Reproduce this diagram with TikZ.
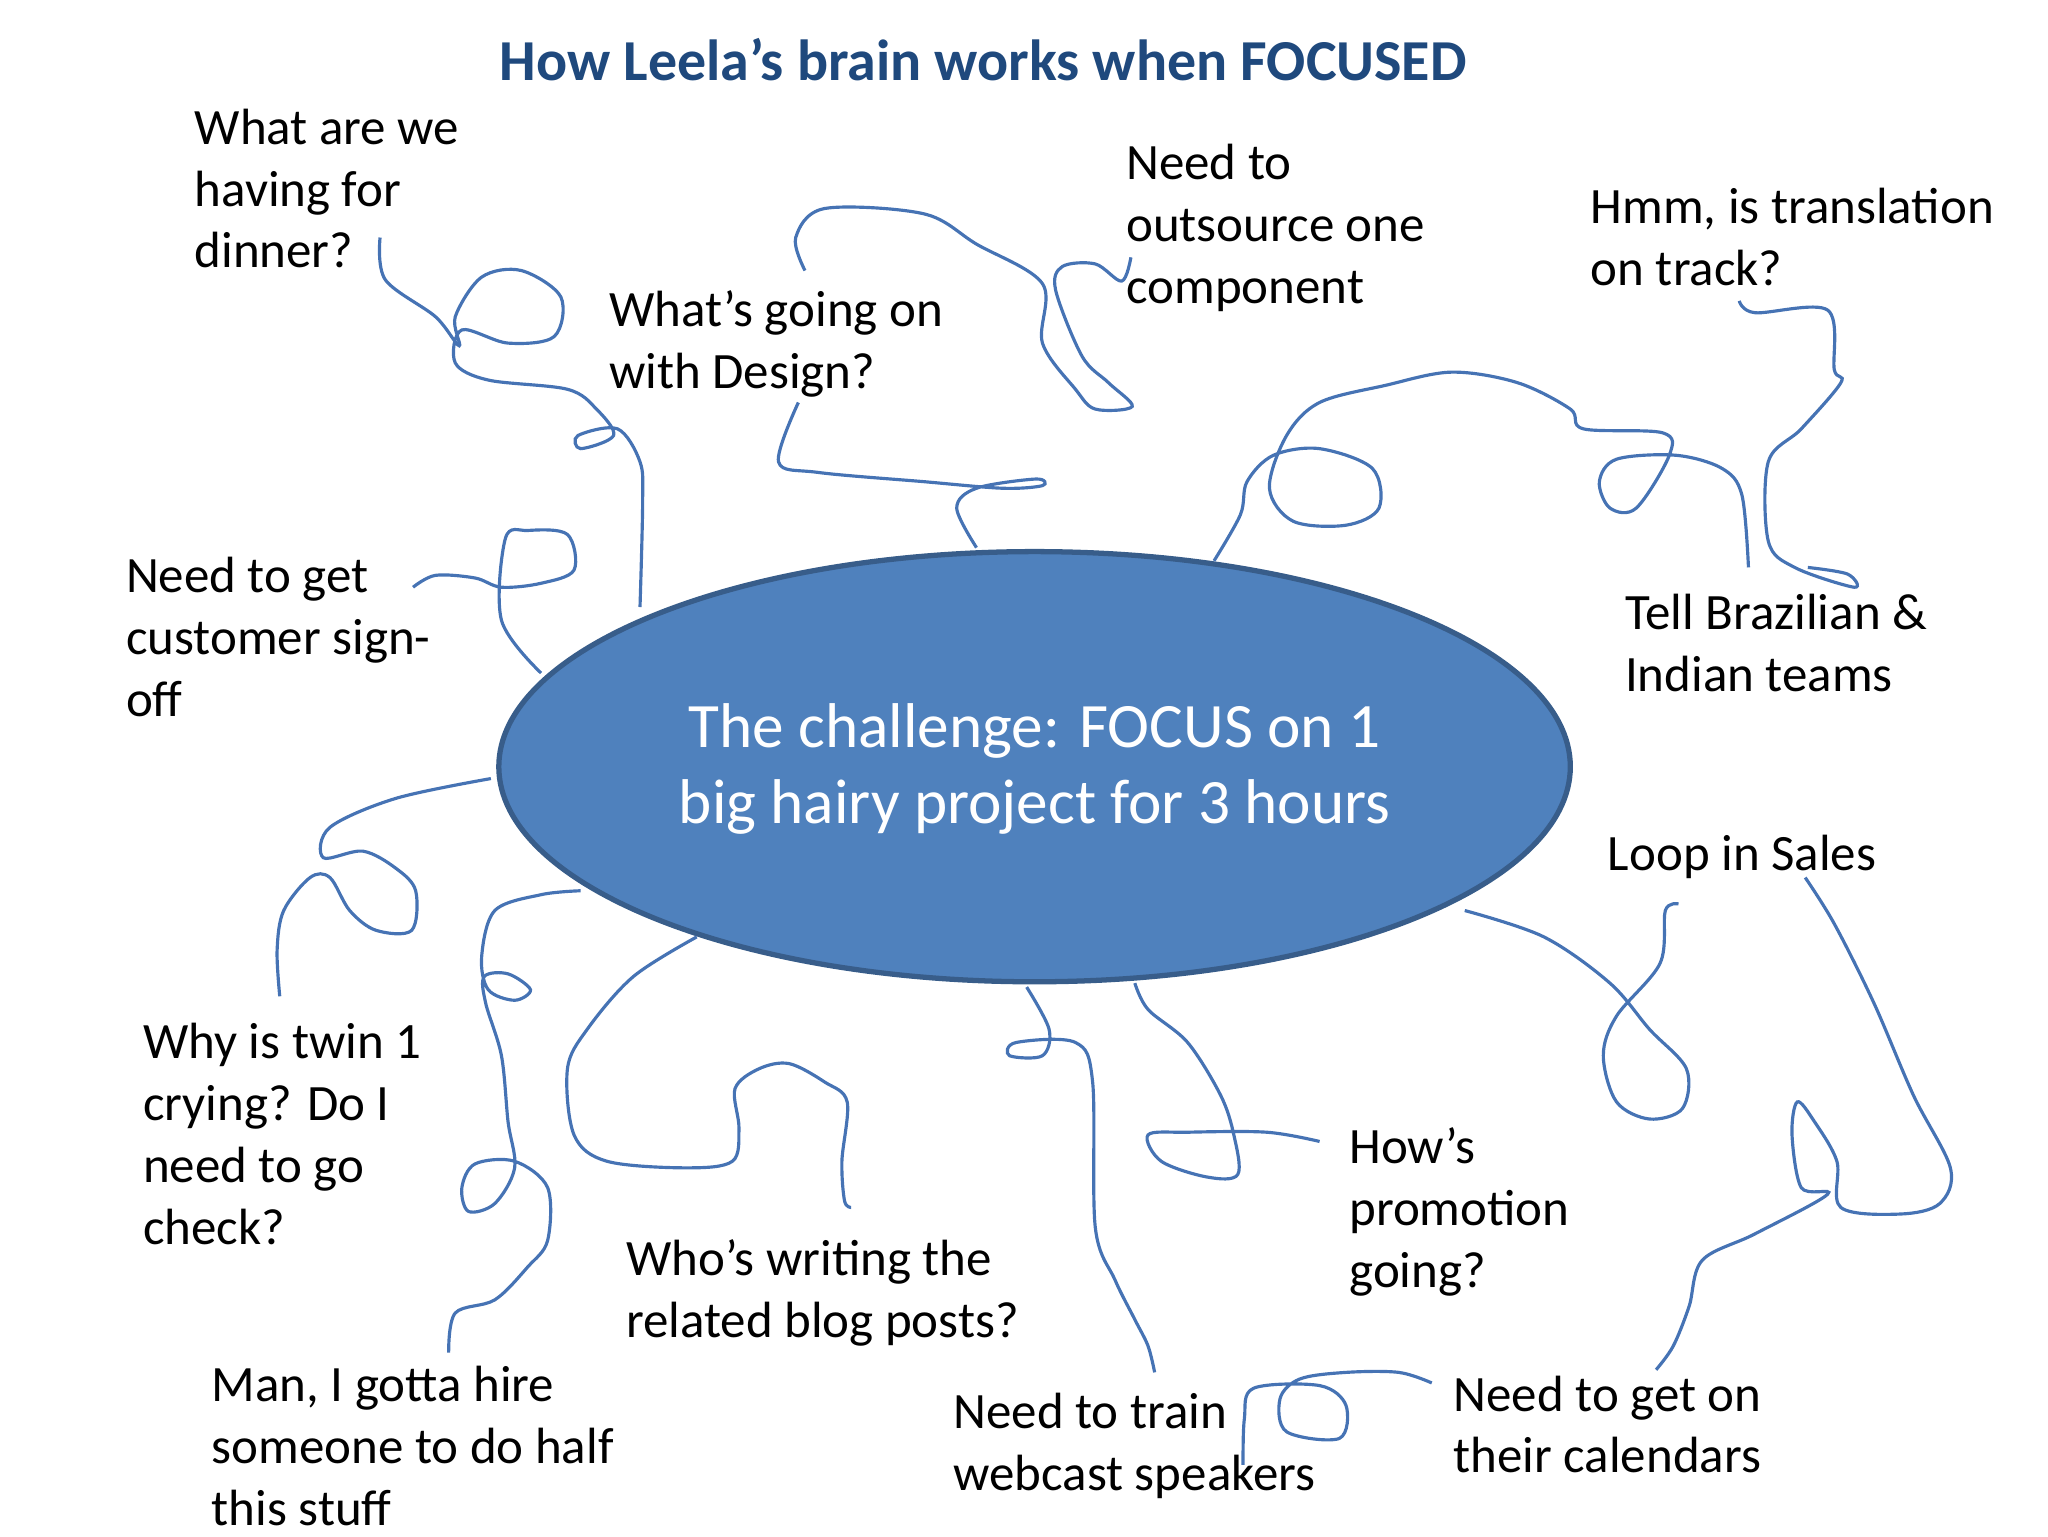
\documentclass[tikz,border=0pt]{standalone}
\usepackage{fontspec}
\setmainfont{Carlito}
\begin{document}
\begin{tikzpicture}[x=0.013196cm,y=-0.013196cm,
  sq/.style={draw={rgb,255:red,70;green,115;blue,180}, line width=0.9pt},
  lbl/.style={anchor=north west, inner sep=0pt, align=left, font=\fontsize{14.5}{17.6}\selectfont}]
\definecolor{ell}{RGB}{79,129,189}
\definecolor{elb}{RGB}{56,93,138}
\definecolor{ttl}{RGB}{31,73,125}
\useasboundingbox (0,0) rectangle (1552,1164);
\filldraw[fill=ell, draw=elb, line width=1.5pt] (784,581) ellipse [x radius=406, y radius=163];
\node (c) [font=\fontsize{18}{21.7}\selectfont, text=white, align=center] at (784,583) {The challenge: FOCUS on 1\\big hairy project for 3 hours};
\node (t) [font=\fontsize{16.5}{20}\selectfont\bfseries, text=ttl] at (745,45) {How Leela’s brain works when FOCUSED};
\node (a1) [lbl] at (147,82) {What are we\\having for\\dinner?};
\node (a2) [lbl] at (853,109) {Need to\\outsource one\\component};
\node (a3) [lbl] at (1205,142) {Hmm, is translation\\on track?};
\node (a4) [lbl] at (461,220) {What’s going on\\with Design?};
\node (a5) [lbl] at (95,422) {Need to get\\customer sign-\\off};
\node (a6) [lbl] at (1231,450) {Tell Brazilian \&\\Indian teams};
\node (a7) [lbl] at (1218,632) {Loop in Sales};
\node (a8) [lbl] at (108,775) {Why is twin 1\\crying? Do I\\need to go\\check?};
\node (a9) [lbl] at (1022,854) {How’s\\promotion\\going?};
\node (a10) [lbl] at (474,939) {Who’s writing the\\related blog posts?};
\node (a11) [lbl] at (160,1035) {Man, I gotta hire\\someone to do half\\this stuff};
\node (a12) [lbl] at (722,1055) {Need to train\\webcast speakers};
\node (a13) [lbl] at (1101,1042) {Need to get on\\their calendars};
\draw[sq] plot[smooth,tension=0.55] coordinates {(288,180)(292,212)(330,240)(348,262)(345,240)(365,210)(395,205)(425,225)(420,255)(385,260)(350,250)(345,275)(370,288)(430,295)(452,310)(465,330)(440,340)(438,330)(468,325)(485,350)(487,380)(485,460)};
\draw[sq] plot[smooth,tension=0.55] coordinates {(605,305)(590,350)(620,358)(700,365)(760,370)(790,368)(785,363)(740,370)(725,385)(740,415)};
\draw[sq] plot[smooth,tension=0.55] coordinates {(610,205)(603,180)(625,158)(700,162)(740,185)(790,215)(790,260)(815,295)(830,310)(858,308)(840,290)(820,270)(800,220)(805,202)(830,200)(850,213)(857,195)};
\draw[sq] plot[smooth,tension=0.55] coordinates {(1318,228)(1330,237)(1385,235)(1390,280)(1395,290)(1365,325)(1340,350)(1340,410)(1360,430)(1405,445)(1400,435)(1370,430)};
\draw[sq] plot[smooth,tension=0.55] coordinates {(920,425)(940,390)(945,365)(965,345)(1000,340)(1040,355)(1045,385)(1020,398)(980,395)(962,370)(975,330)(1000,305)(1050,292)(1100,282)(1150,290)(1190,310)(1200,325)(1260,328)(1265,345)(1240,385)(1220,385)(1212,365)(1225,348)(1270,345)(1305,355)(1320,375)(1325,430)};
\draw[sq] plot[smooth,tension=0.55] coordinates {(313,445)(330,436)(360,438)(380,445)(410,442)(435,432)(430,405)(400,402)(383,408)(380,470)(410,510)};
\draw[sq] plot[smooth,tension=0.55] coordinates {(372,590)(300,605)(250,627)(245,650)(275,645)(300,658)(315,675)(312,705)(285,705)(265,690)(250,665)(235,665)(215,690)(210,720)(212,755)};
\draw[sq] plot[smooth,tension=0.55] coordinates {(340,1025)(345,995)(375,985)(400,960)(415,940)(415,900)(390,880)(360,882)(350,900)(355,918)(375,912)(390,885)(385,850)(380,800)(368,760)(367,740)(385,738)(402,750)(390,758)(370,750)(365,725)(375,690)(410,678)(440,675)};
\draw[sq] plot[smooth,tension=0.55] coordinates {(528,710)(480,740)(445,780)(430,810)(435,860)(460,880)(520,885)(555,880)(560,855)(557,825)(575,810)(598,806)(625,820)(642,835)(638,880)(640,910)(645,915)};
\draw[sq] plot[smooth,tension=0.55] coordinates {(778,748)(795,780)(790,800)(765,800)(770,790)(815,790)(828,820)(830,930)(845,970)(860,1000)(870,1020)(875,1040)};
\draw[sq] plot[smooth,tension=0.55] coordinates {(860,745)(870,765)(900,790)(925,830)(935,860)(938,890)(915,892)(880,880)(870,860)(900,858)(960,858)(1000,865)};
\draw[sq] plot[smooth,tension=0.55] coordinates {(1110,690)(1170,710)(1220,745)(1250,780)(1278,810)(1275,840)(1250,848)(1225,835)(1215,800)(1225,770)(1258,730)(1262,690)(1272,685)};
\draw[sq] plot[smooth,tension=0.55] coordinates {(1368,665)(1390,700)(1420,760)(1450,830)(1478,885)(1470,912)(1440,920)(1395,915)(1392,880)(1375,850)(1362,835)(1358,860)(1365,900)(1385,905)(1330,935)(1290,955)(1280,990)(1268,1020)(1255,1038)};
\draw[sq] plot[smooth,tension=0.55] coordinates {(1085,1048)(1060,1040)(1020,1040)(985,1045)(970,1060)(975,1085)(1015,1090)(1020,1065)(1000,1050)(950,1052)(943,1075)(942,1110)};
\end{tikzpicture}
\end{document}
